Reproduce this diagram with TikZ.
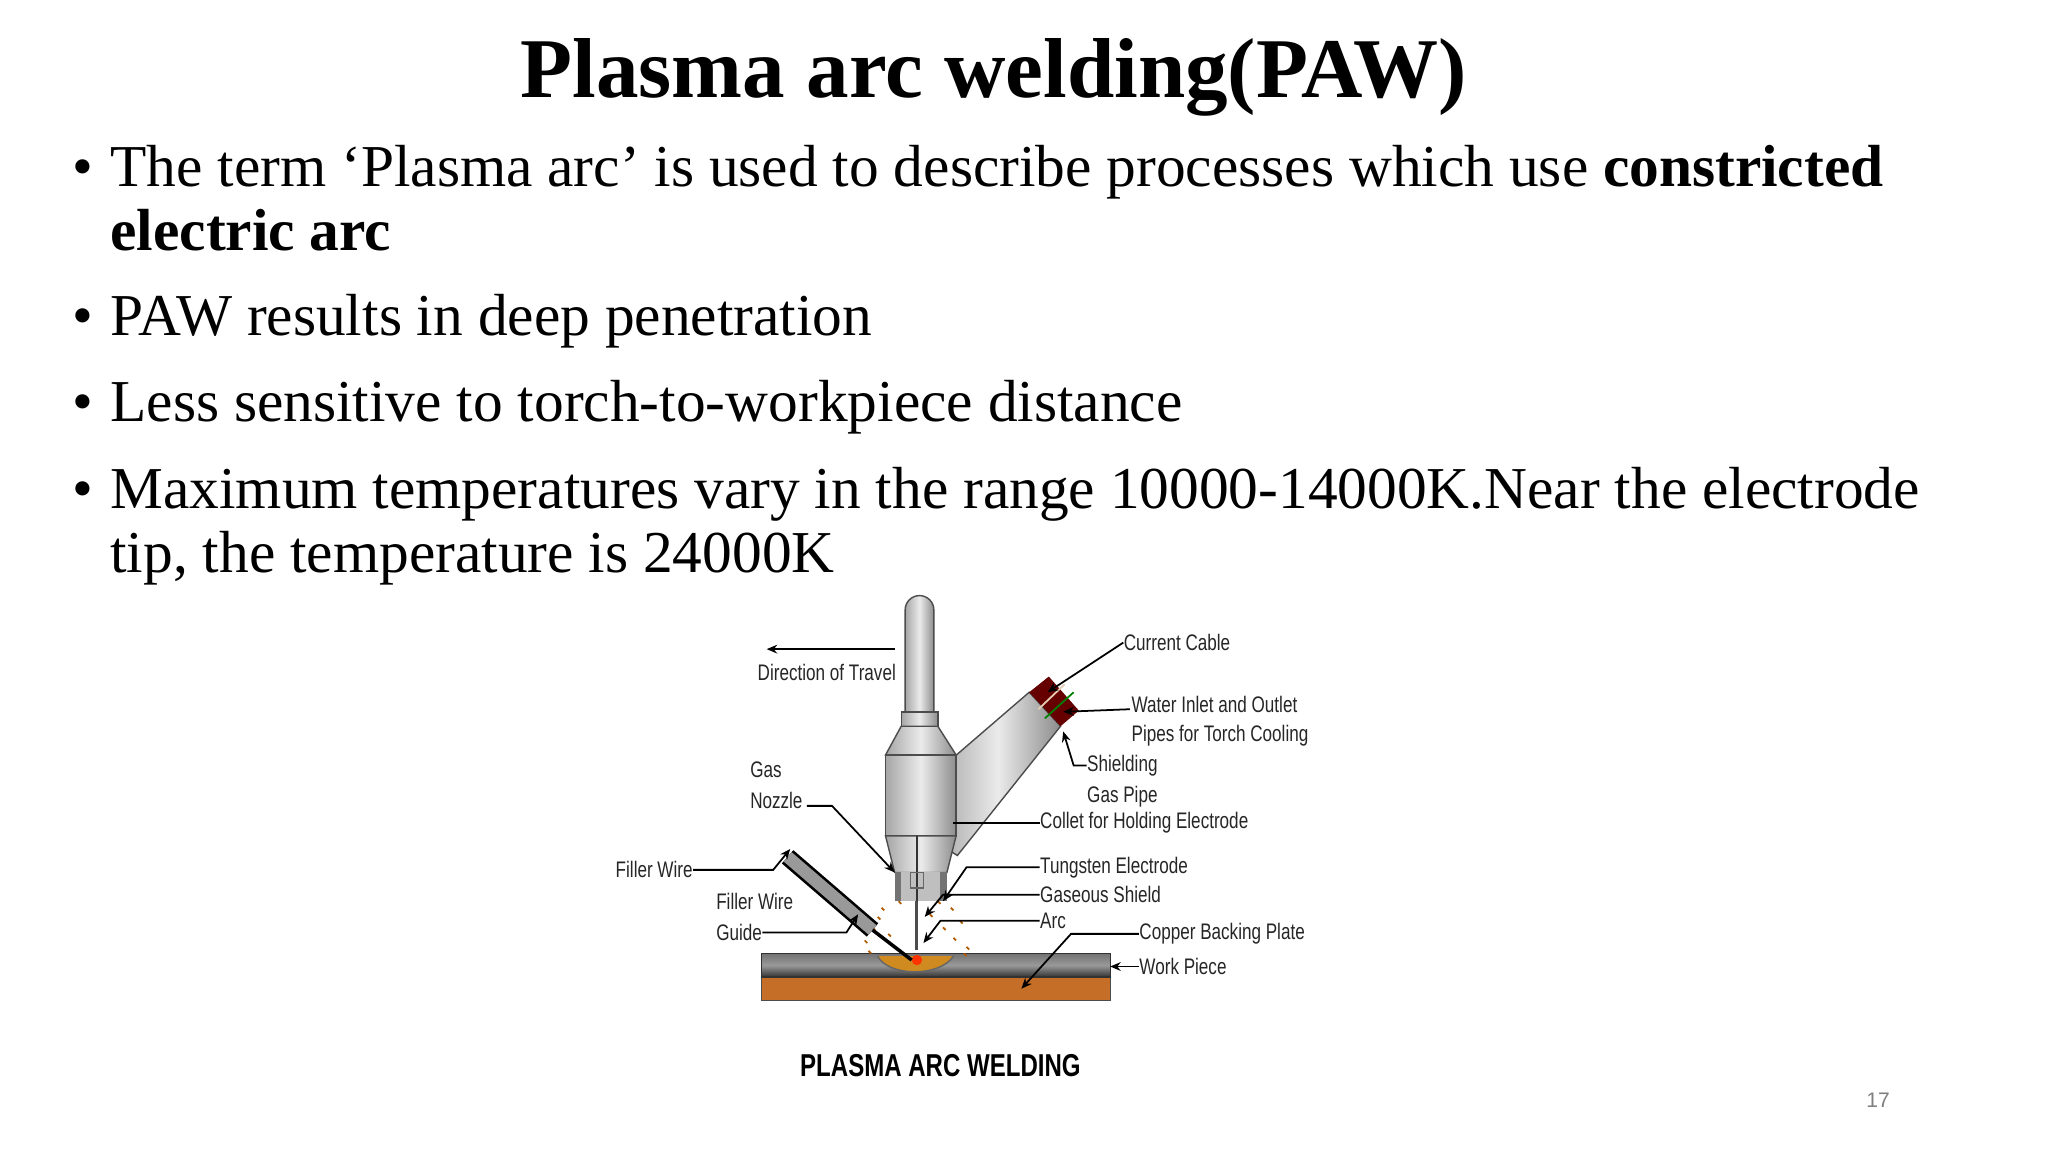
\documentclass[tikz,border=0pt]{standalone}
\usepackage{fontspec}
\setmainfont{Liberation Serif}
\newfontfamily\lab{Liberation Sans}
\usetikzlibrary{arrows.meta}
\definecolor{copper}{RGB}{196,110,40}
\tikzset{
  lbl/.style={font=\lab\fontsize{6.4}{7}\selectfont, xscale=0.76, anchor=west, inner sep=0pt, text=black!85},
  lead/.style={draw=black, line width=0.5pt},
  leadar/.style={draw=black, line width=0.5pt, -{Stealth[length=3pt,width=2.5pt]}},
  bul/.style={font=\fontsize{16.9}{19}\selectfont, anchor=base west, inner sep=0pt},
  metal/.style={draw=black!70, line width=0.4pt, left color=black!35, right color=black!45, middle color=black!8},
}
\begin{document}
\begin{tikzpicture}[x=0.01306cm,y=-0.01306cm]
\useasboundingbox (0,0) rectangle (1568,882);
\fill[white] (0,0) rectangle (1568,882);
% title
\node[font=\bfseries\fontsize{24.2}{28}\selectfont, anchor=base, inner sep=0pt] (title) at (761,75) {Plasma arc welding(PAW)};
% bullets
\foreach \y in {143,257,323,389} \node[bul] at (55,\y) {\textbullet};
\node[bul] (b1) at (84,143) {The term ‘Plasma arc’ is used to describe processes which use \textbf{constricted}};
\node[bul] (b1b) at (84,192) {\textbf{electric arc}};
\node[bul] (b2) at (84,257) {PAW results in deep penetration};
\node[bul] (b3) at (84,323) {Less sensitive to torch-to-workpiece distance};
\node[bul] (b4) at (84,389) {Maximum temperatures vary in the range 10000-14000K.Near the electrode};
\node[bul] (b4b) at (84,438) {tip, the temperature is 24000K};
\node[font=\lab\fontsize{6}{7}\selectfont, text=black!50, inner sep=0pt] (pg) at (1438,842) {17};

% ---- diagram ----
\fill[copper, draw=black!70] (583,747) rectangle (850,766);
\shade[top color=black!55, bottom color=black!80, middle color=black!40, draw=black!80] (583,730) rectangle (850,748);
\fill[copper!80!yellow] (672,732) .. controls (680,748) and (720,748) .. (730,732) -- cycle;
\draw[black!60] (672,732) .. controls (680,748) and (720,748) .. (730,732);
\foreach \a/\b in {660/700,668/710,675/695,662/720,688/690,712/700,722/710,730/718,735/705,740/725,680/715,718/690,728/695,665/728,738/730,672/702}
  \draw[orange!70!black, line width=0.5pt] (\a,\b) -- ++(2,2);
\fill[red!60!orange] (702,735) circle (4);
% side pipe
\shade[metal] (716,592) -- (788,530) -- (812,556) -- (733,655) -- (725,650) -- cycle;
\fill[black!60!red] (788,530) -- (803,518) -- (826,544) -- (812,556) -- cycle;
\draw[green!50!black, line width=0.5pt] (800,550) -- (822,530);
\draw[brown!40, line width=0.5pt] (795,543) -- (815,524);
% torch
\shade[metal] (693,545) -- (693,467) arc (180:360:11) -- (715,545) -- cycle;
\shade[metal] (690,545) rectangle (718,556);
\shade[metal] (690,556) -- (718,556) -- (732,578) -- (678,578) -- cycle;
\shade[metal] (678,578) rectangle (732,640);
\shade[metal] (678,640) -- (732,640) -- (725,668) -- (685,668) -- cycle;
\fill[black!55] (685,668) rectangle (725,690);
\fill[black!25] (690,668) rectangle (720,690);
\draw[black!80, line width=0.6pt] (702,640) -- (702,690);
\draw[black!70, line width=0.9pt] (702,690) -- (702,727);
\draw[black!60] (697,668) rectangle (707,680);
% filler wire guide
\draw[black, line width=5pt] (603,656) -- (668,712);
\draw[black!40, line width=3.5pt] (603,656) -- (668,712);
\draw[black, line width=1pt] (668,712) -- (698,735);

\coordinate (tr1) at (685,497); \coordinate (tr2) at (587,497);
\draw[leadar] (tr1) -- (tr2);
\node[lbl, anchor=center] (dir) at (633,515) {Direction of Travel};

\node[lbl] (cc) at (860,492) {Current Cable};
\node[lbl] (wi) at (866,539) {Water Inlet and Outlet};
\node[lbl] (wi2) at (866,563) {Pipes for Torch Cooling};
\node[lbl] (sg) at (832,586) {Shielding};
\node[lbl] (sg2) at (832,610) {Gas Pipe};
\node[lbl] (co) at (796,630) {Collet for Holding Electrode};
\node[lbl] (te) at (796,664) {Tungsten Electrode};
\node[lbl] (gs) at (796,685) {Gaseous Shield};
\node[lbl] (arc) at (796,705) {Arc};
\node[lbl] (cb) at (872,715) {Copper Backing Plate};
\node[lbl] (wp) at (872,740) {Work Piece};
\node[lbl] (gn1) at (574,589) {Gas};
\node[lbl] (gn2) at (574,613) {Nozzle};
\node[lbl] (fw) at (471,666) {Filler Wire};
\node[lbl] (fg1) at (548,690) {Filler Wire};
\node[lbl] (fg2) at (548,714) {Guide};

\coordinate (p1) at (802,530);
\draw[leadar] (cc.west) -- (p1);
\draw[leadar] (wi.west) ++(-1,4) -- (814,545);
\draw[leadar] (sg.west) -- (822,586) -- (814,560);
\draw[lead] (co.west) -- (730,630);
\draw[leadar] (te.west) -- (740,664) -- (722,690);
\draw[leadar] (gs.west) -- (722,685) -- (708,702);
\draw[leadar] (arc.west) -- (720,705) -- (707,722);
\draw[leadar] (cb.west) -- (820,715) -- (782,757);
\draw[leadar] (wp.west) -- (850,740);
\draw[leadar] (gn2.east) ++(3,4) -- (637,617) -- (685,668);
\draw[leadar] (fw.east) -- (592,666) -- (605,650);
\draw[leadar] (fg2.east) -- (648,714) -- (657,700);

\node[font=\lab\bfseries\fontsize{9}{10}\selectfont, xscale=0.76, inner sep=0pt] (cap) at (720,816) {PLASMA ARC WELDING};
\end{tikzpicture}
\end{document}
